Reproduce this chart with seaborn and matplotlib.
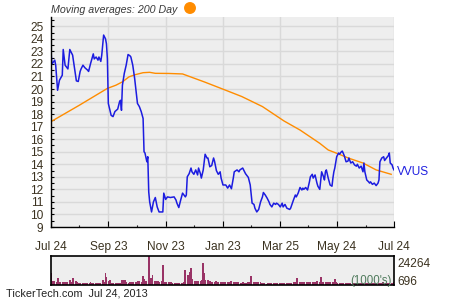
import numpy as np
import pandas as pd
import matplotlib
matplotlib.use("Agg")
import matplotlib.pyplot as plt
import matplotlib.dates as mdates
from matplotlib.patches import Ellipse
from matplotlib.ticker import MultipleLocator, FixedLocator, NullLocator
import seaborn as sns

plt.rcParams['font.family'] = ['Liberation Sans', 'DejaVu Sans']

START = '2012-07-24'
END = '2013-07-24'
TICKER = 'VVUS'

# price series: days since START, closing price
price_days = [0, 1, 4, 5, 7, 9, 12, 13, 15, 18, 20, 23, 27, 29, 31, 32, 34, 36, 39, 40,
              42, 45, 46, 48, 50, 51, 53, 54, 56, 58, 59, 60, 61, 64, 66, 68, 71, 73, 74, 75,
              76, 78, 80, 82, 84, 85, 87, 89, 90, 92, 94, 96, 98, 99, 100, 102, 103, 104, 105, 107,
              109, 111, 113, 115, 117, 119, 120, 122, 124, 127, 131, 133, 134, 136, 138, 140, 143, 144, 145, 147,
              149, 150, 152, 154, 156, 157, 159, 160, 162, 164, 166, 167, 169, 171, 173, 174, 176, 178, 180, 181,
              183, 186, 188, 190, 192, 194, 195, 198, 200, 201, 204, 206, 207, 210, 212, 214, 216, 217, 219, 221,
              223, 225, 226, 228, 230, 232, 233, 235, 237, 239, 240, 242, 244, 246, 247, 249, 251, 254, 255, 258,
              260, 261, 263, 265, 267, 268, 269, 271, 273, 275, 276, 278, 279, 281, 283, 284, 286, 288, 290, 291,
              292, 293, 295, 297, 299, 300, 301, 302, 304, 306, 307, 309, 310, 312, 314, 316, 317, 319, 321, 323,
              325, 326, 328, 330, 332, 333, 334, 336, 338, 339, 340, 342, 344, 346, 348, 349, 350, 352, 354, 355,
              357, 359, 360, 361, 363, 364, 365]
price = [22.96, 22.0, 22.3, 21.9, 19.9, 20.7, 21.1, 23.15, 21.9, 21.6, 23.15, 22.7, 20.65, 20.6, 21.4, 21.6, 21.9, 21.7, 21.5, 21.4,
         22.0, 22.8, 22.4, 22.55, 22.3, 22.55, 22.2, 22.7, 24.3, 24.0, 23.6, 22.4, 18.85, 17.9, 17.8, 18.2, 18.4, 19.0, 19.1, 18.3,
         20.3, 21.25, 21.9, 22.75, 22.65, 22.55, 21.9, 20.85, 20.2, 18.85, 18.6, 18.2, 17.65, 15.0, 14.9, 14.2, 14.6, 11.8, 11.0, 10.2,
         11.0, 11.35, 10.6, 10.2, 10.2, 10.2, 11.7, 11.2, 11.4, 11.35, 11.4, 11.15, 10.9, 10.55, 11.15, 11.7, 11.4, 11.55, 13.0, 13.25,
         13.7, 13.4, 13.2, 13.55, 13.15, 13.7, 13.25, 12.9, 13.55, 14.8, 14.5, 14.5, 13.8, 13.9, 14.5, 14.25, 13.5, 13.2, 13.4, 12.9,
         12.35, 12.35, 12.1, 12.35, 12.05, 12.9, 13.4, 13.55, 13.4, 13.55, 13.7, 13.4, 13.25, 12.95, 12.35, 10.9, 10.8, 10.5, 10.2, 10.4,
         11.0, 11.4, 11.75, 11.55, 11.3, 11.0, 10.8, 10.6, 10.9, 10.8, 10.9, 10.8, 10.6, 10.9, 10.6, 10.8, 10.5, 10.4, 10.5, 11.15,
         11.55, 11.4, 11.7, 12.15, 11.95, 12.1, 12.0, 12.15, 11.95, 12.6, 13.0, 13.2, 12.9, 13.15, 12.5, 12.25, 12.0, 13.4, 13.0, 12.75,
         13.4, 13.55, 12.9, 12.35, 12.25, 12.9, 13.4, 13.7, 14.6, 14.9, 14.8, 15.0, 15.05, 14.7, 14.2, 14.25, 14.5, 14.1, 14.2, 13.95,
         13.85, 14.0, 13.7, 13.85, 13.4, 14.1, 13.4, 12.75, 12.6, 12.5, 12.6, 12.4, 12.5, 12.3, 12.5, 12.75, 14.2, 14.5, 14.6, 14.3,
         14.5, 14.7, 14.9, 14.1, 13.95, 13.7, 13.55]

# 200-day moving average
ma_days = [0, 30, 60, 69, 76, 83, 90, 98, 105, 111, 125, 140, 163, 186, 203, 225, 248, 265, 286, 295,
           304, 317, 332, 346, 362]
ma_200 = [17.4, 18.7, 20.05, 20.3, 20.57, 20.97, 21.15, 21.3, 21.33, 21.25, 21.24, 21.2, 20.57, 19.9, 19.4, 18.6,
          17.45, 16.73, 15.67, 15.14, 14.88, 14.48, 14.1, 13.55, 13.2]

# daily volume (1000's), one per business day
volume_k = [9700, 3000, 2600, 3200, 2800, 5500, 2400, 2200, 2600, 2300,
            2400, 2100, 2500, 2200, 4000, 2600, 2400, 5500, 4800, 3000,
            2600, 2000, 1400, 1300, 1500, 1400, 1200, 1500, 1300, 1400,
            2200, 1400, 1300, 1500, 1400, 1200, 1600, 1400, 1500, 4500,
            2400, 2000, 9700, 7000, 3000, 4200, 1500, 1400, 1600, 1300,
            1500, 1400, 1600, 1500, 4000, 3800, 4200, 3900, 2200, 2000,
            2400, 2200, 1900, 2300, 2100, 2200, 3000, 2800, 3200, 2400,
            7500, 5000, 3500, 3000, 24264, 5000, 6000, 3500, 8500, 3200,
            3000, 2800, 3100, 2900, 3000, 16700, 2400, 2200, 2500, 2300,
            2400, 2100, 2200, 1800, 2000, 1800, 1700, 1900, 1800, 1700,
            1800, 2500, 4200, 12500, 8500, 4000, 11000, 14000, 5000, 3000,
            2800, 3200, 3000, 2900, 3100, 4200, 18100, 9700, 4000, 4200,
            2800, 3000, 2600, 2800, 2900, 2700, 3000, 2800, 2600, 2400,
            2300, 2500, 2400, 2200, 2400, 2300, 2500, 2200, 3500, 2400,
            2800, 2300, 2200, 2400, 2000, 1900, 2100, 2000, 1800, 2000,
            2100, 1900, 2200, 7500, 2400, 2500, 2300, 2400, 2200, 2400,
            1400, 1300, 1500, 1400, 1200, 1400, 1300, 1500, 1400, 1300,
            1400, 1200, 1500, 1300, 1400, 1600, 1400, 1300, 1500, 1400,
            1300, 1500, 1400, 1600, 1500, 2200, 2400, 2800, 5500, 2600,
            2400, 2200, 2500, 2300, 2400, 2600, 2200, 2500, 2300, 2400,
            2200, 2600, 2400, 3000, 2500, 7000, 2600, 2400, 2200, 2500,
            2300, 2400, 2600, 2200, 2400, 2500, 5000, 2200, 1800, 1900,
            1700, 1800, 1900, 1600, 1800, 1700, 1900, 1800, 1700, 1600,
            1800, 1700, 1900, 1800, 1600, 1700, 1800, 1900, 1700, 1800,
            1600, 1800, 1700, 1900, 1800, 1700, 1600, 1800, 1900, 1700,
            1800, 1700, 1900, 2200, 1800, 1700, 1800, 1900, 1700, 1800,
            2000, 2200]
vol_max_label = '24264'
vol_min_label = '696'

x_tick_dates = ['2012-07-24', '2012-09-23', '2012-11-23', '2013-01-23', '2013-03-25', '2013-05-24', '2013-07-24']
x_tick_labels = ['Jul 24', 'Sep 23', 'Nov 23', 'Jan 23', 'Mar 25', 'May 24', 'Jul 24']
x_minor_dates = ['2012-08-23', '2012-10-23', '2012-12-23', '2013-02-22', '2013-04-24', '2013-06-24']
y_ticks = list(range(9, 26))

TXT = '#3b3220'

start = pd.Timestamp(START)
end = pd.Timestamp(END)
price_df = pd.DataFrame({'date': start + pd.to_timedelta(price_days, unit='D'), 'price': price})
ma_df = pd.DataFrame({'date': start + pd.to_timedelta(ma_days, unit='D'), 'ma': ma_200})
vol_dates = pd.bdate_range(START, END)[:len(volume_k)]
vol_df = pd.DataFrame({'num': mdates.date2num(vol_dates), 'vol': volume_k})

fig = plt.figure(figsize=(4.5, 3.0), dpi=100)

# ---- main price axes
ax = fig.add_axes([51 / 450, 1 - 227 / 300, 343 / 450, 210 / 300])
ax.set_facecolor('#eeeeee')
ax.set_axisbelow(True)
sns.lineplot(data=ma_df, x='date', y='ma', ax=ax, color='#ff8c00', linewidth=1.0)
sns.lineplot(data=price_df, x='date', y='price', ax=ax, color='#1c1ce0', linewidth=1.1)
ax.set_xlim(start, end)
ax.set_ylim(9, 25.74)
ax.set_xlabel('')
ax.set_ylabel('')

ax.xaxis.set_major_locator(FixedLocator(mdates.date2num(pd.to_datetime(x_tick_dates))))
ax.set_xticklabels(x_tick_labels)
ax.xaxis.set_minor_locator(FixedLocator(mdates.date2num(pd.to_datetime(x_minor_dates))))
ax.yaxis.set_major_locator(FixedLocator(y_ticks))
ax.set_yticklabels([str(v) for v in y_ticks])
ax.yaxis.set_minor_locator(MultipleLocator(0.5))

ax.grid(True, which='major', color='#d9d9d9', linewidth=1.0)
for s in ['top', 'right']:
    ax.spines[s].set_visible(False)
for s in ['left', 'bottom']:
    ax.spines[s].set_color('black')
    ax.spines[s].set_linewidth(1.0)
ax.tick_params(axis='y', which='both', direction='in', length=2.2, width=0.8, color='black',
               labelsize=8.6, labelcolor=TXT, pad=5.5)
ax.tick_params(axis='x', which='major', direction='in', length=4.2, width=0.8, color='black',
               labelsize=8.6, labelcolor=TXT, pad=10)
ax.tick_params(axis='x', which='minor', direction='in', length=1.8, width=0.8, color='black')

# ---- volume axes
axv = fig.add_axes([51 / 450, 1 - 285 / 300, 343 / 450, 29 / 300])
axv.set_facecolor('#eeeeee')
axv.bar(vol_df['num'], vol_df['vol'], width=2.0, color='#993366', linewidth=0, align='center')
axv.set_xlim(mdates.date2num(start), mdates.date2num(end))
axv.set_ylim(0, 24264)
axv.set_xlabel('')
axv.set_ylabel('')
axv.xaxis.set_major_locator(NullLocator())
axv.xaxis.set_minor_locator(NullLocator())
axv.yaxis.set_major_locator(NullLocator())
axv.yaxis.set_minor_locator(NullLocator())
for s in axv.spines.values():
    s.set_visible(True)
    s.set_color('black')
    s.set_linewidth(1.2)

# ---- texts
fig.text(51 / 450, 1 - 10 / 300, 'Moving averages: 200 Day', style='italic', color='#3a3a3a',
         fontsize=7.7, ha='left', va='center')
fig.add_artist(Ellipse((190 / 450, 1 - 8 / 300), 10.5 / 450, 10.5 / 300, transform=fig.transFigure,
                       color='#ff8c00'))
fig.text(397 / 450, 1 - 172 / 300, TICKER, color='#2020e0', fontsize=8.6, ha='left', va='center')
fig.text(397.5 / 450, 1 - 264 / 300, vol_max_label, color=TXT, fontsize=8.6, ha='left', va='center')
fig.text(397.5 / 450, 1 - 282 / 300, vol_min_label, color=TXT, fontsize=8.6, ha='left', va='center')
fig.text(392 / 450, 1 - 281 / 300, "(1000's)", color='#4f7a5c', fontsize=8.3, ha='right', va='center')
fig.text(6 / 450, 1 - 294 / 300, 'TickerTech.com  Jul 24, 2013', color='#222222', fontsize=7.8,
         ha='left', va='center')

fig.savefig('out.png', dpi=100)
